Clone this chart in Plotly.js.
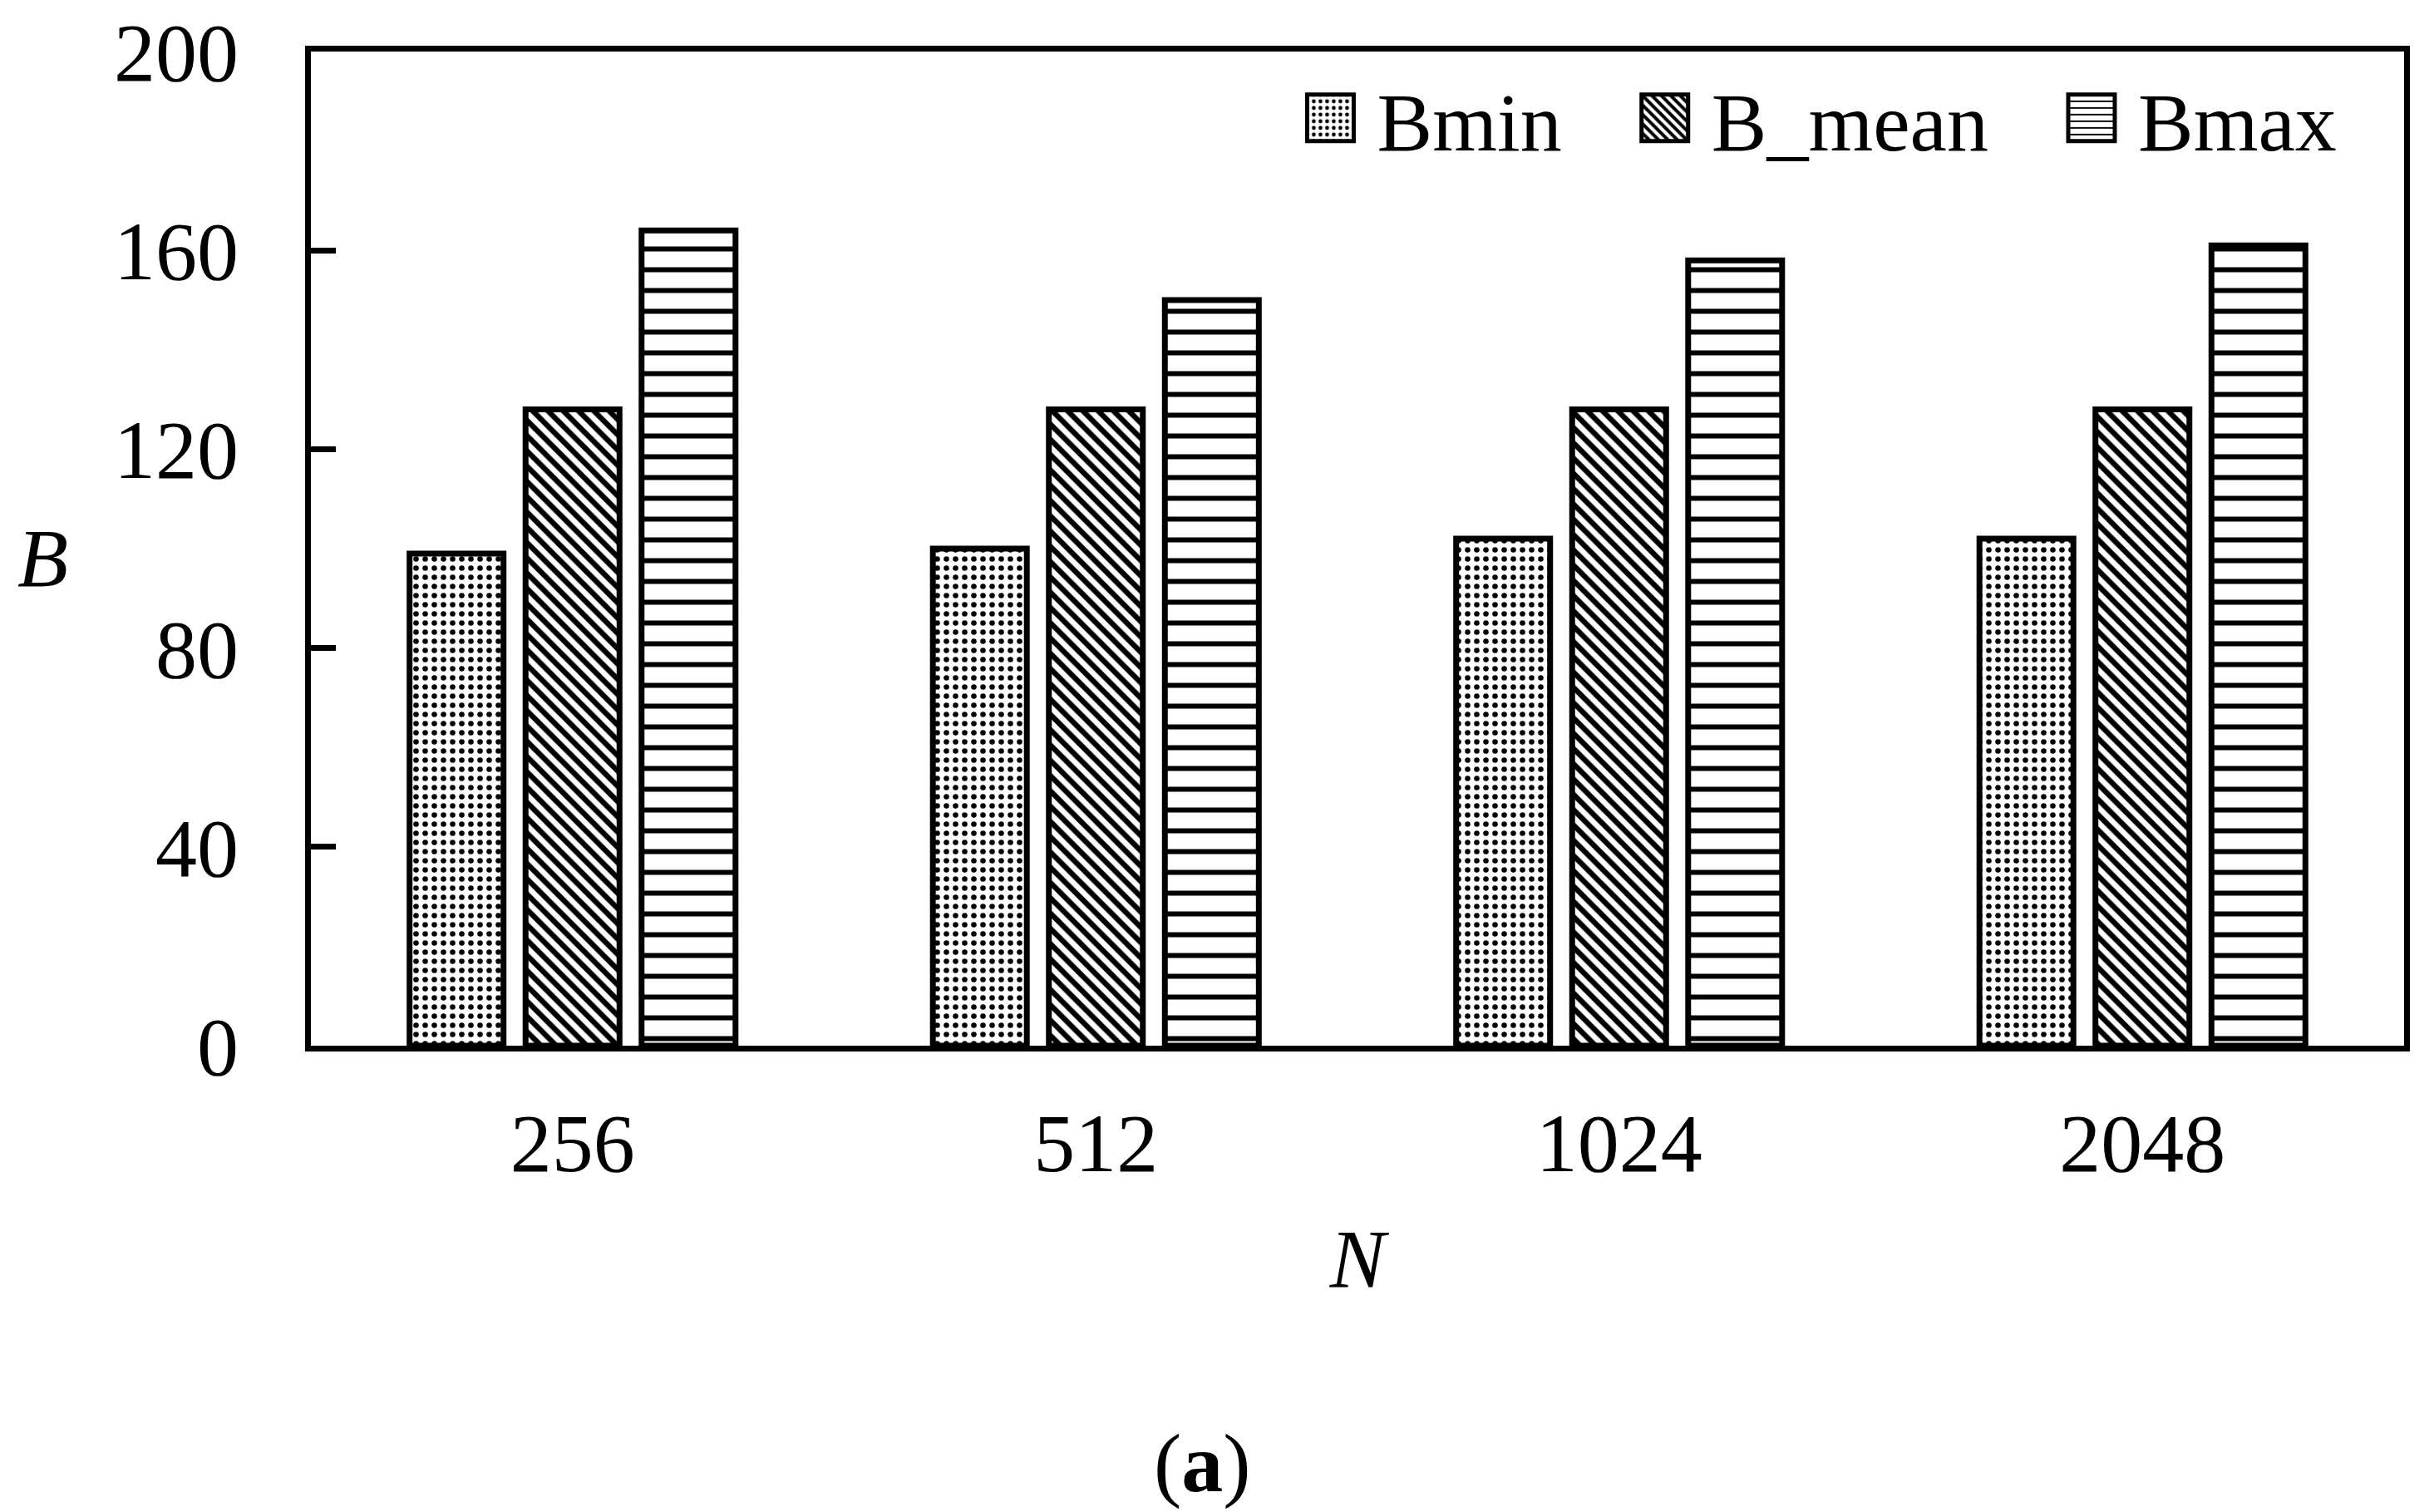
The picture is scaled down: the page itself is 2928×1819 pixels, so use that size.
<!DOCTYPE html>
<html>
<head>
<meta charset="utf-8">
<script src="https://cdn.plot.ly/plotly-3.0.1.min.js"></script>
<style>
  html, body { margin: 0; padding: 0; background: #ffffff; }
  #chart { width: 2928px; height: 1819px; }
</style>
</head>
<body>
<div id="chart"></div>
<script>
const categories = ['256', '512', '1024', '2048'];
const bMin = [99, 100, 102, 102];
const bMean = [128, 128, 128, 128];
const bMax = [164, 150, 158, 161];
const seriesNames = ['Bmin', 'B_mean', 'Bmax'];
const yTickValues = [0, 40, 80, 120, 160, 200];

const FONT = 'Liberation Serif, Times New Roman, serif';

function barTrace(name, values, shape, size, solidity) {
  return {
    type: 'bar',
    name: name,
    x: categories,
    y: values,
    marker: {
      color: '#ffffff',
      line: { color: '#000000', width: 7 },
      pattern: { shape: shape, fgcolor: '#000000', bgcolor: '#ffffff', fillmode: 'replace', size: size, solidity: solidity }
    },
    hoverinfo: 'skip'
  };
}

const data = [
  barTrace(seriesNames[0], bMin, '.', 11, 0.28),
  barTrace(seriesNames[1], bMean, '\\', 13, 0.5),
  barTrace(seriesNames[2], bMax, '-', 25, 0.24)
];

const layout = {
  width: 2928,
  height: 1819,
  paper_bgcolor: '#ffffff',
  plot_bgcolor: '#ffffff',
  margin: { l: 374, r: 36, t: 62, b: 561, pad: 0 },
  font: { family: FONT, size: 100, color: '#000000' },
  barmode: 'group',
  bargap: 0.335,
  bargroupgap: 0.19,
  showlegend: true,
  legend: {
    orientation: 'h',
    x: 0.97, xanchor: 'right',
    y: 0.993, yanchor: 'top',
    bgcolor: 'rgba(0,0,0,0)',
    borderwidth: 0,
    font: { family: FONT, size: 100, color: '#000000' },
    itemwidth: 165,
    traceorder: 'normal'
  },
  xaxis: {
    type: 'category',
    showline: true, linecolor: '#000000', linewidth: 7, mirror: true,
    ticks: '', showgrid: false, zeroline: false,
    tickfont: { family: FONT, size: 100, color: '#000000' },
    ticklabelstandoff: 24,
    title: { text: '<i>N</i>', font: { family: FONT, size: 100, color: '#000000' }, standoff: 50 }
  },
  yaxis: {
    range: [0, 200],
    tickvals: yTickValues,
    ticktext: yTickValues.map(String),
    showline: true, linecolor: '#000000', linewidth: 7, mirror: true,
    ticks: 'inside', ticklen: 30, tickwidth: 7, tickcolor: '#000000',
    showgrid: false, zeroline: false,
    tickfont: { family: FONT, size: 100, color: '#000000' },
    ticklabelstandoff: 60
  },
  annotations: [
    {
      text: '<i>B</i>',
      xref: 'paper', yref: 'paper',
      x: -0.128, y: 0.49,
      xanchor: 'center', yanchor: 'middle',
      showarrow: false,
      font: { family: FONT, size: 100, color: '#000000' }
    },
    {
      text: '(<b>a</b>)',
      xref: 'paper', yref: 'paper',
      x: 0.426, y: -0.42,
      xanchor: 'center', yanchor: 'middle',
      showarrow: false,
      font: { family: FONT, size: 100, color: '#000000' }
    }
  ]
};

Plotly.newPlot('chart', data, layout, { staticPlot: true, displayModeBar: false }).then(function (gd) {
  gd.querySelectorAll('.legend g.traces').forEach(function (g) {
    var t = g.querySelector('text.legendtext');
    var tx = t ? parseFloat(t.getAttribute('x')) || 175 : 175;
    var cx = tx - 56;
    g.querySelectorAll('.legendpoints path').forEach(function (p) {
      p.setAttribute('d', 'M-28,28H28V-28H-28Z');
      p.setAttribute('transform', 'translate(' + cx + ',0)');
    });
  });
});
</script>
</body>
</html>
